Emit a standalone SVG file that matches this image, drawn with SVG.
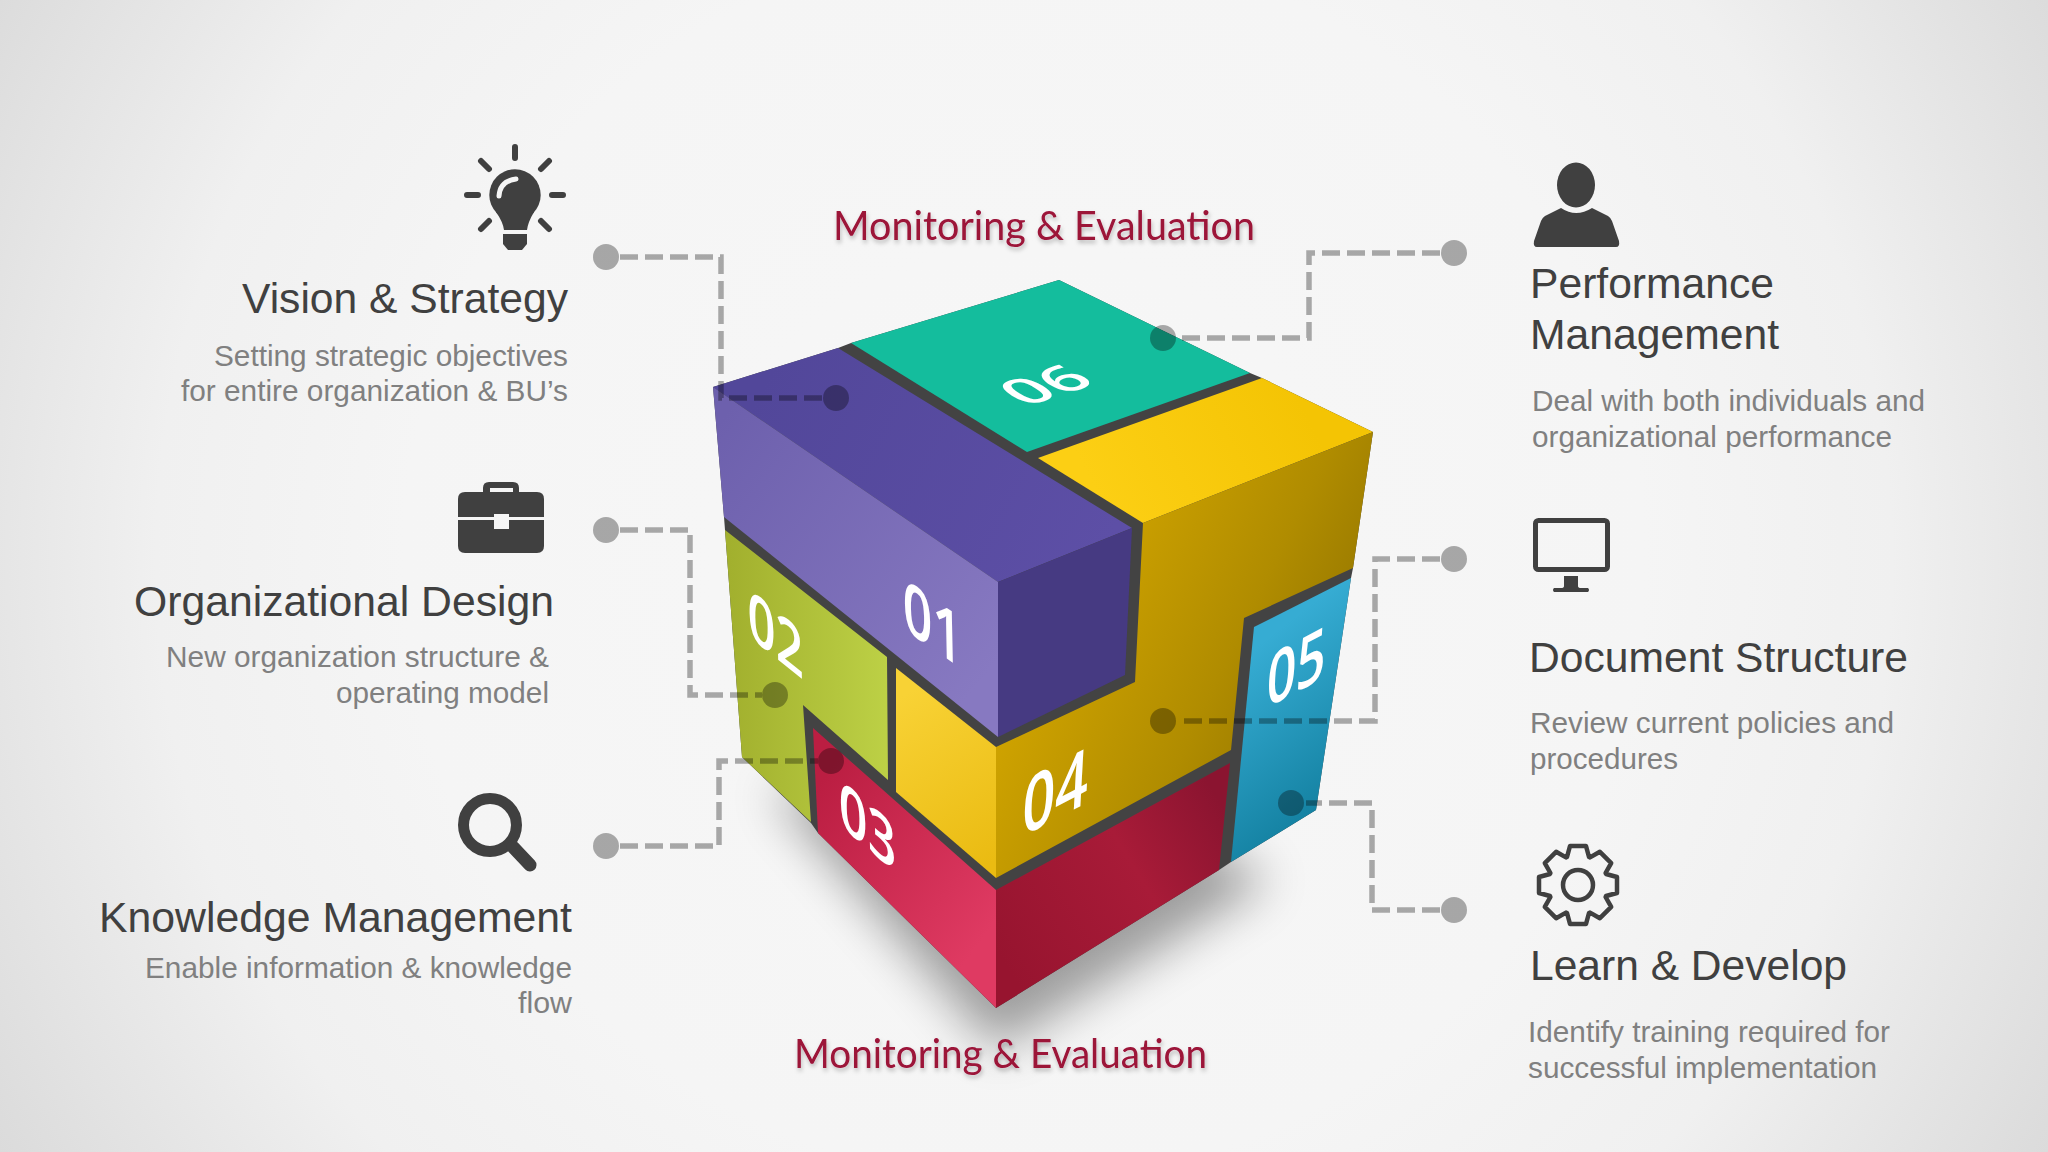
<svg xmlns="http://www.w3.org/2000/svg" width="2048" height="1152" viewBox="0 0 2048 1152">
<defs>
<radialGradient id="bg" gradientUnits="userSpaceOnUse" cx="1024" cy="560" r="1240"><stop offset="0" stop-color="#f7f7f7"/><stop offset="0.5" stop-color="#f5f5f5"/><stop offset="0.7" stop-color="#f0f0f0"/><stop offset="0.94" stop-color="#dcdcdc"/><stop offset="1" stop-color="#d8d8d8"/></radialGradient>
<filter id="blur" x="-30%" y="-30%" width="160%" height="160%"><feGaussianBlur stdDeviation="24"/></filter>
<filter id="ts" x="-5%" y="-20%" width="110%" height="150%"><feDropShadow dx="1" dy="3" stdDeviation="2" flood-color="#000" flood-opacity="0.25"/></filter>
<linearGradient id="gPL" gradientUnits="userSpaceOnUse" x1="713" y1="430" x2="998" y2="660"><stop offset="0" stop-color="#6d60ad"/><stop offset="1" stop-color="#8779c1"/></linearGradient>
<linearGradient id="gPT" gradientUnits="userSpaceOnUse" x1="760" y1="390" x2="1100" y2="560"><stop offset="0" stop-color="#52479a"/><stop offset="1" stop-color="#5d4fa6"/></linearGradient>
<linearGradient id="gYT" gradientUnits="userSpaceOnUse" x1="1300" y1="400" x2="1100" y2="500"><stop offset="0" stop-color="#f4c404"/><stop offset="1" stop-color="#fccf14"/></linearGradient>
<linearGradient id="gYR" gradientUnits="userSpaceOnUse" x1="1050" y1="620" x2="1340" y2="760"><stop offset="0" stop-color="#cfa300"/><stop offset="0.55" stop-color="#b08c00"/><stop offset="1" stop-color="#8f7200"/></linearGradient>
<linearGradient id="gYL" gradientUnits="userSpaceOnUse" x1="896" y1="700" x2="996" y2="860"><stop offset="0" stop-color="#f8d235"/><stop offset="1" stop-color="#eabb12"/></linearGradient>
<linearGradient id="gG" gradientUnits="userSpaceOnUse" x1="730" y1="650" x2="890" y2="650"><stop offset="0" stop-color="#a2b02e"/><stop offset="1" stop-color="#bdd146"/></linearGradient>
<linearGradient id="gB" gradientUnits="userSpaceOnUse" x1="1240" y1="660" x2="1350" y2="800"><stop offset="0" stop-color="#36acd3"/><stop offset="1" stop-color="#127f9f"/></linearGradient>
<linearGradient id="gRL" gradientUnits="userSpaceOnUse" x1="815" y1="790" x2="996" y2="920"><stop offset="0" stop-color="#bb1e42"/><stop offset="1" stop-color="#df3a62"/></linearGradient>
<linearGradient id="gRR" gradientUnits="userSpaceOnUse" x1="996" y1="950" x2="1225" y2="810"><stop offset="0" stop-color="#97142f"/><stop offset="0.6" stop-color="#a81b38"/><stop offset="1" stop-color="#8b1430"/></linearGradient>
</defs>
<style>
.head{font-family:"Liberation Sans",Arial,sans-serif;font-size:42px;fill:#404040}
.desc{font-family:"Liberation Sans",Arial,sans-serif;font-size:30px;fill:#808080}
.end{text-anchor:end}
.me{font-family:Lato,"Liberation Sans",sans-serif;font-size:41px;fill:#9c1238;filter:url(#ts)}
.num{font-family:"Open Sans","Liberation Sans",sans-serif;font-weight:600;fill:#fff;text-anchor:middle}
.ln{fill:none;stroke:#000;stroke-opacity:.32;stroke-width:5.5;stroke-dasharray:18 7}
.dot{fill:#000;fill-opacity:.32}
.ic{fill:#404040}
.ics{fill:none;stroke:#404040}
</style>
<rect width="2048" height="1152" fill="url(#bg)"/>
<polygon points="770,790 996,1050 1270,880 1100,790" fill="#000" opacity=".36" filter="url(#blur)"/>
<g id="cube">
<polygon id="cube-base" fill="#434343" points="713,387 838,348 851,343 1059,280 1250,373 1262,378 1373,432 1353,568 1351,578 1316,810 1231,862 1219,870 996,1008 818,833 811,823 742,757 725,530 724,517"/>
<g id="block-06"><polygon fill="#14bd9d" points="851,343 1059,280 1250,373 1027,452"/><text class="num" font-size="68" transform="matrix(.93 -.3 .68 .42 1062 395)">06</text></g>
<g id="block-04">
<polygon fill="url(#gYT)" points="1262,378 1373,432 1143,523 1038,458"/>
<polygon fill="url(#gYR)" points="1143,523 1373,432 1353,568 1244,618 1231,750 996,878 996,747 1135,682"/>
<polygon fill="url(#gYL)" points="896,668 996,747 996,878 896,792"/>
<text class="num" font-size="72" transform="matrix(.8 -.42 -.06 1.1 1054 820)">04</text></g>
<g id="block-01">
<polygon fill="url(#gPT)" points="713,387 838,348 1132,528 998,582"/>
<polygon fill="url(#gPL)" points="713,387 998,582 998,737 724,517"/>
<polygon fill="#463a82" points="998,582 1132,528 1125,675 998,737"/>
<text class="num" font-size="72" transform="matrix(.72 .5 .02 1 933 649)">01</text></g>
<g id="block-02"><polygon fill="url(#gG)" points="725,530 887,657 888,780 803,705 811,822 742,757"/>
<text class="num" font-size="68" transform="matrix(.72 .58 .02 1 776 658)">02</text></g>
<g id="block-03">
<polygon fill="url(#gRL)" points="813,728 996,890 996,1008 818,833"/>
<polygon fill="url(#gRR)" points="996,890 1230,763 1219,870 996,1008"/>
<text class="num" font-size="66" transform="matrix(.76 .64 .02 1 868 849)">03</text></g>
<g id="block-05"><polygon fill="url(#gB)" points="1351,578 1254,627 1231,862 1316,810"/>
<text class="num" font-size="68" transform="matrix(.76 -.4 -.06 1.08 1295 693)">05</text></g>
</g>
<g id="connectors">
<path class="ln" d="M620 257H721V398H822"/><circle class="dot" cx="606" cy="257" r="13"/><circle class="dot" cx="836" cy="398" r="13"/>
<path class="ln" d="M620 530H690V695H762"/><circle class="dot" cx="606" cy="530" r="13"/><circle class="dot" cx="775" cy="695" r="13"/>
<path class="ln" d="M620 846H719V761H818"/><circle class="dot" cx="606" cy="846" r="13"/><circle class="dot" cx="831" cy="761" r="13"/>
<path class="ln" d="M1440 253H1309V338H1178"/><circle class="dot" cx="1454" cy="253" r="13"/><circle class="dot" cx="1163" cy="338" r="13"/>
<path class="ln" d="M1440 559H1375V721H1178"/><circle class="dot" cx="1454" cy="559" r="13"/><circle class="dot" cx="1163" cy="721" r="13"/>
<path class="ln" d="M1440 910H1372V803H1306"/><circle class="dot" cx="1454" cy="910" r="13"/><circle class="dot" cx="1291" cy="803" r="13"/>
</g>
<g id="monitoring-top"><text class="me" x="833" y="240" textLength="422" lengthAdjust="spacingAndGlyphs">Monitoring &amp; Evaluation</text></g>
<g id="monitoring-bottom"><text class="me" x="794" y="1068" textLength="413" lengthAdjust="spacingAndGlyphs">Monitoring &amp; Evaluation</text></g>
<g id="vision">
<g class="ic"><circle cx="515" cy="195" r="25.7"/><path d="M496 212Q503 222 504 230H527Q528 222 534 212Z"/><path d="M503 234H527V244L522 250H508L503 244Z"/></g>
<path d="M499 196Q500 181 516 179" fill="none" stroke="#f5f5f5" stroke-width="5" stroke-linecap="round"/>
<path class="ics" stroke-width="6" stroke-linecap="round" d="M515 147V158M481 161L489 169M549 161L541 169M467 195H478M552 195H563M481 229L489 221M549 229L541 221"/>
<text class="head end" x="568" y="313" textLength="326" lengthAdjust="spacingAndGlyphs">Vision &amp; Strategy</text>
<text class="desc end" x="568" y="366" textLength="354" lengthAdjust="spacingAndGlyphs">Setting strategic objectives</text>
<text class="desc end" x="568" y="401" textLength="387" lengthAdjust="spacingAndGlyphs">for entire organization &amp; BU’s</text>
</g>
<g id="org-design">
<path class="ic" d="M465 492H537Q544 492 544 499V517H509V514H494V517H458V499Q458 492 465 492Z"/>
<path class="ic" d="M458 520H494V529H509V520H544V546Q544 553 537 553H465Q458 553 458 546Z"/>
<path class="ic" d="M483 493V488Q483 482 489 482H513Q519 482 519 488V493H513V488H490V493Z"/>
<text class="head end" x="554" y="616" textLength="420" lengthAdjust="spacingAndGlyphs">Organizational Design</text>
<text class="desc end" x="549" y="667" textLength="383" lengthAdjust="spacingAndGlyphs">New organization structure &amp;</text>
<text class="desc end" x="549" y="703" textLength="213" lengthAdjust="spacingAndGlyphs">operating model</text>
</g>
<g id="knowledge">
<circle class="ics" cx="490" cy="825" r="26.5" stroke-width="11"/><path class="ics" stroke-width="13" stroke-linecap="round" d="M513 847L530 865"/>
<text class="head end" x="572" y="932" textLength="473" lengthAdjust="spacingAndGlyphs">Knowledge Management</text>
<text class="desc end" x="572" y="978" textLength="427" lengthAdjust="spacingAndGlyphs">Enable information &amp; knowledge</text>
<text class="desc end" x="572" y="1013" textLength="54" lengthAdjust="spacingAndGlyphs">flow</text>
</g>
<g id="performance">
<ellipse class="ic" cx="1576" cy="185" rx="19" ry="22.5"/>
<path class="ic" d="M1561 208Q1576 218 1592 208L1608 216Q1611 218 1612 221L1619 241Q1620 247 1616 247H1537Q1533 247 1534 241L1541 221Q1542 218 1545 216Z"/>
<text class="head" x="1530" y="298" textLength="244" lengthAdjust="spacingAndGlyphs">Performance</text>
<text class="head" x="1530" y="349" textLength="249" lengthAdjust="spacingAndGlyphs">Management</text>
<text class="desc" x="1532" y="411" textLength="393" lengthAdjust="spacingAndGlyphs">Deal with both individuals and</text>
<text class="desc" x="1532" y="447" textLength="360" lengthAdjust="spacingAndGlyphs">organizational performance</text>
</g>
<g id="document">
<rect class="ics" x="1535.5" y="520.5" width="72" height="49" rx="3" stroke-width="5"/>
<path class="ic" d="M1564 576H1578V586Q1578 588 1581 588H1588Q1590 590 1588 592H1554Q1552 590 1554 588H1561Q1564 588 1564 586Z"/>
<text class="head" x="1529" y="672" textLength="379" lengthAdjust="spacingAndGlyphs">Document Structure</text>
<text class="desc" x="1530" y="733" textLength="364" lengthAdjust="spacingAndGlyphs">Review current policies and</text>
<text class="desc" x="1530" y="769" textLength="148" lengthAdjust="spacingAndGlyphs">procedures</text>
</g>
<g id="learn">
<g transform="translate(1578 885)" class="ics" stroke-width="4.5" stroke-linejoin="round"><polygon points="-11,-28 -8,-39 8,-39 11,-28 12,-27.6 21.9,-33.2 33.2,-21.9 27.6,-12 28,-11 39,-8 39,8 28,11 27.6,12 33.2,21.9 21.9,33.2 12,27.6 11,28 8,39 -8,39 -11,28 -12,27.6 -21.9,33.2 -33.2,21.9 -27.6,12 -28,11 -39,8 -39,-8 -28,-11 -27.6,-12 -33.2,-21.9 -21.9,-33.2 -12,-27.6"/><circle r="15"/></g>
<text class="head" x="1530" y="980" textLength="317" lengthAdjust="spacingAndGlyphs">Learn &amp; Develop</text>
<text class="desc" x="1528" y="1042" textLength="362" lengthAdjust="spacingAndGlyphs">Identify training required for</text>
<text class="desc" x="1528" y="1078" textLength="349" lengthAdjust="spacingAndGlyphs">successful implementation</text>
</g>
</svg>
